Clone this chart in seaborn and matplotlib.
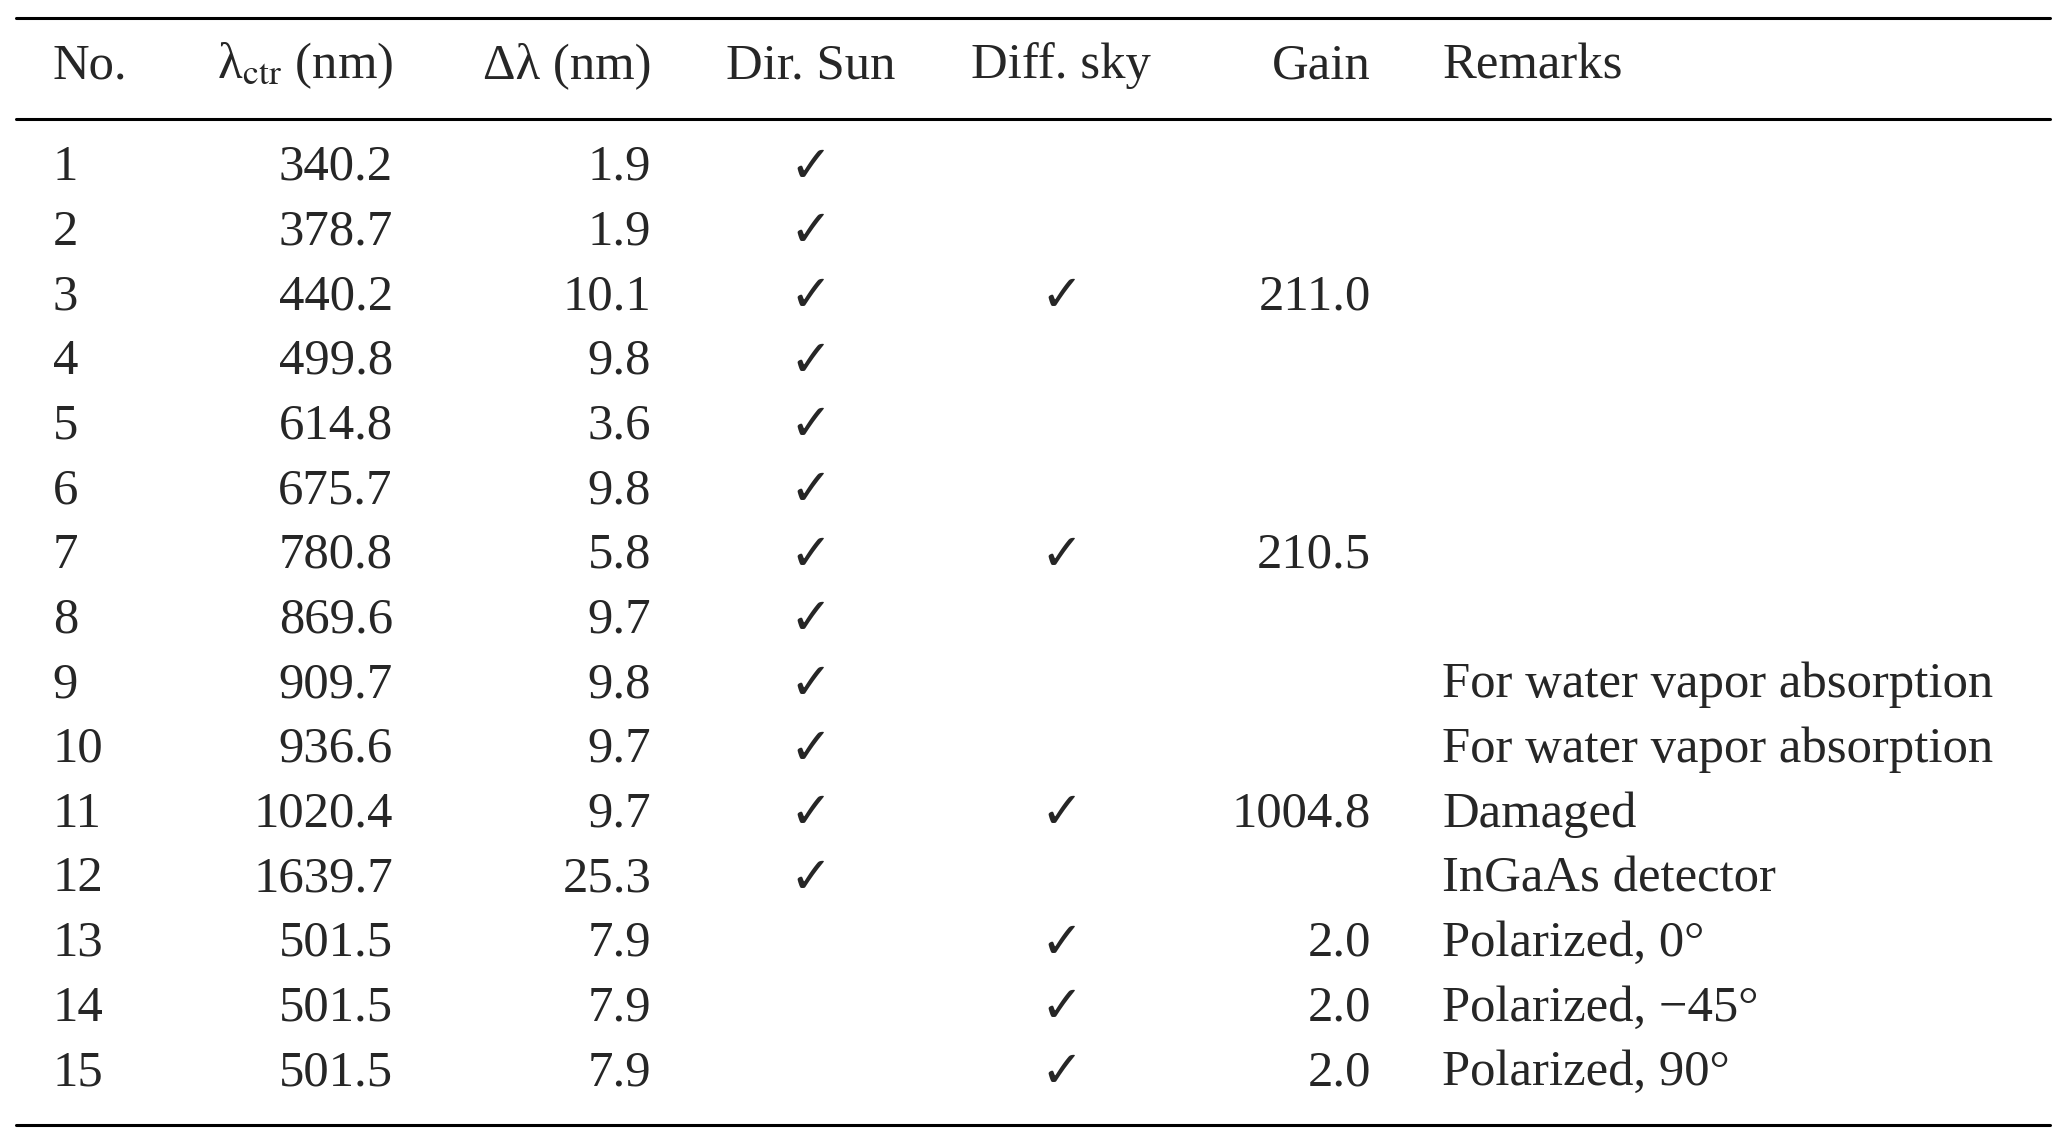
import matplotlib
matplotlib.use("Agg")
import matplotlib.pyplot as plt
import seaborn as sns

sns.set_theme(style="white")
plt.rcParams['font.family'] = ['Liberation Serif', 'DejaVu Serif']
plt.rcParams['mathtext.fontset'] = 'stix'

headers = ["No.", "λ$_{\\rm ctr}$ (nm)", "Δλ (nm)", "Dir. Sun", "Diff. sky", "Gain", "Remarks"]
numbers = [str(i) for i in range(1, 16)]
lam_ctr = ["340.2", "378.7", "440.2", "499.8", "614.8", "675.7", "780.8", "869.6", "909.7", "936.6", "1020.4", "1639.7", "501.5", "501.5", "501.5"]
dlam = ["1.9", "1.9", "10.1", "9.8", "3.6", "9.8", "5.8", "9.7", "9.8", "9.7", "9.7", "25.3", "7.9", "7.9", "7.9"]
dir_sun = [True]*12 + [False]*3
diff_sky = [False, False, True, False, False, False, True, False, False, False, True, False, True, True, True]
gain = ["", "", "211.0", "", "", "", "210.5", "", "", "", "1004.8", "", "2.0", "2.0", "2.0"]
remarks = ["", "", "", "", "", "", "", "", "For water vapor absorption", "For water vapor absorption",
           "Damaged", "InGaAs detector", "Polarized, 0°", "Polarized, \u221245°", "Polarized, 90°"]

fig = plt.figure(figsize=(20.67, 11.43), dpi=100)
ax = fig.add_axes([0, 0, 1, 1])
ax.set_xlim(0, 1568)
ax.set_ylim(866, 0)
ax.axis("off")

fs = 36.5
col_x = [40, 298, 494, 615, 805, 1040, 1094]
col_ha = ["left", "right", "right", "center", "center", "right", "left"]

for x, ha, h in zip(col_x, col_ha, headers):
    ax.text(x, 50, h, ha=ha, va="center", fontsize=fs)

ck = "\u2713"
for i in range(15):
    y = 127 + 49 * i
    ax.text(col_x[0], y, numbers[i], ha="left", va="center", fontsize=fs)
    ax.text(col_x[1], y, lam_ctr[i], ha="right", va="center", fontsize=fs)
    ax.text(col_x[2], y, dlam[i], ha="right", va="center", fontsize=fs)
    if dir_sun[i]:
        ax.text(col_x[3], y, ck, ha="center", va="center", fontsize=fs, family=['DejaVu Sans'])
    if diff_sky[i]:
        ax.text(col_x[4], y, ck, ha="center", va="center", fontsize=fs, family=['DejaVu Sans'])
    if gain[i]:
        ax.text(col_x[5], y, gain[i], ha="right", va="center", fontsize=fs)
    if remarks[i]:
        ax.text(col_x[6], y, remarks[i], ha="left", va="center", fontsize=fs)

for yy in [14, 90, 852]:
    ax.plot([12, 1555], [yy, yy], color="black", lw=2.2)

fig.savefig("out.png", dpi=100)
